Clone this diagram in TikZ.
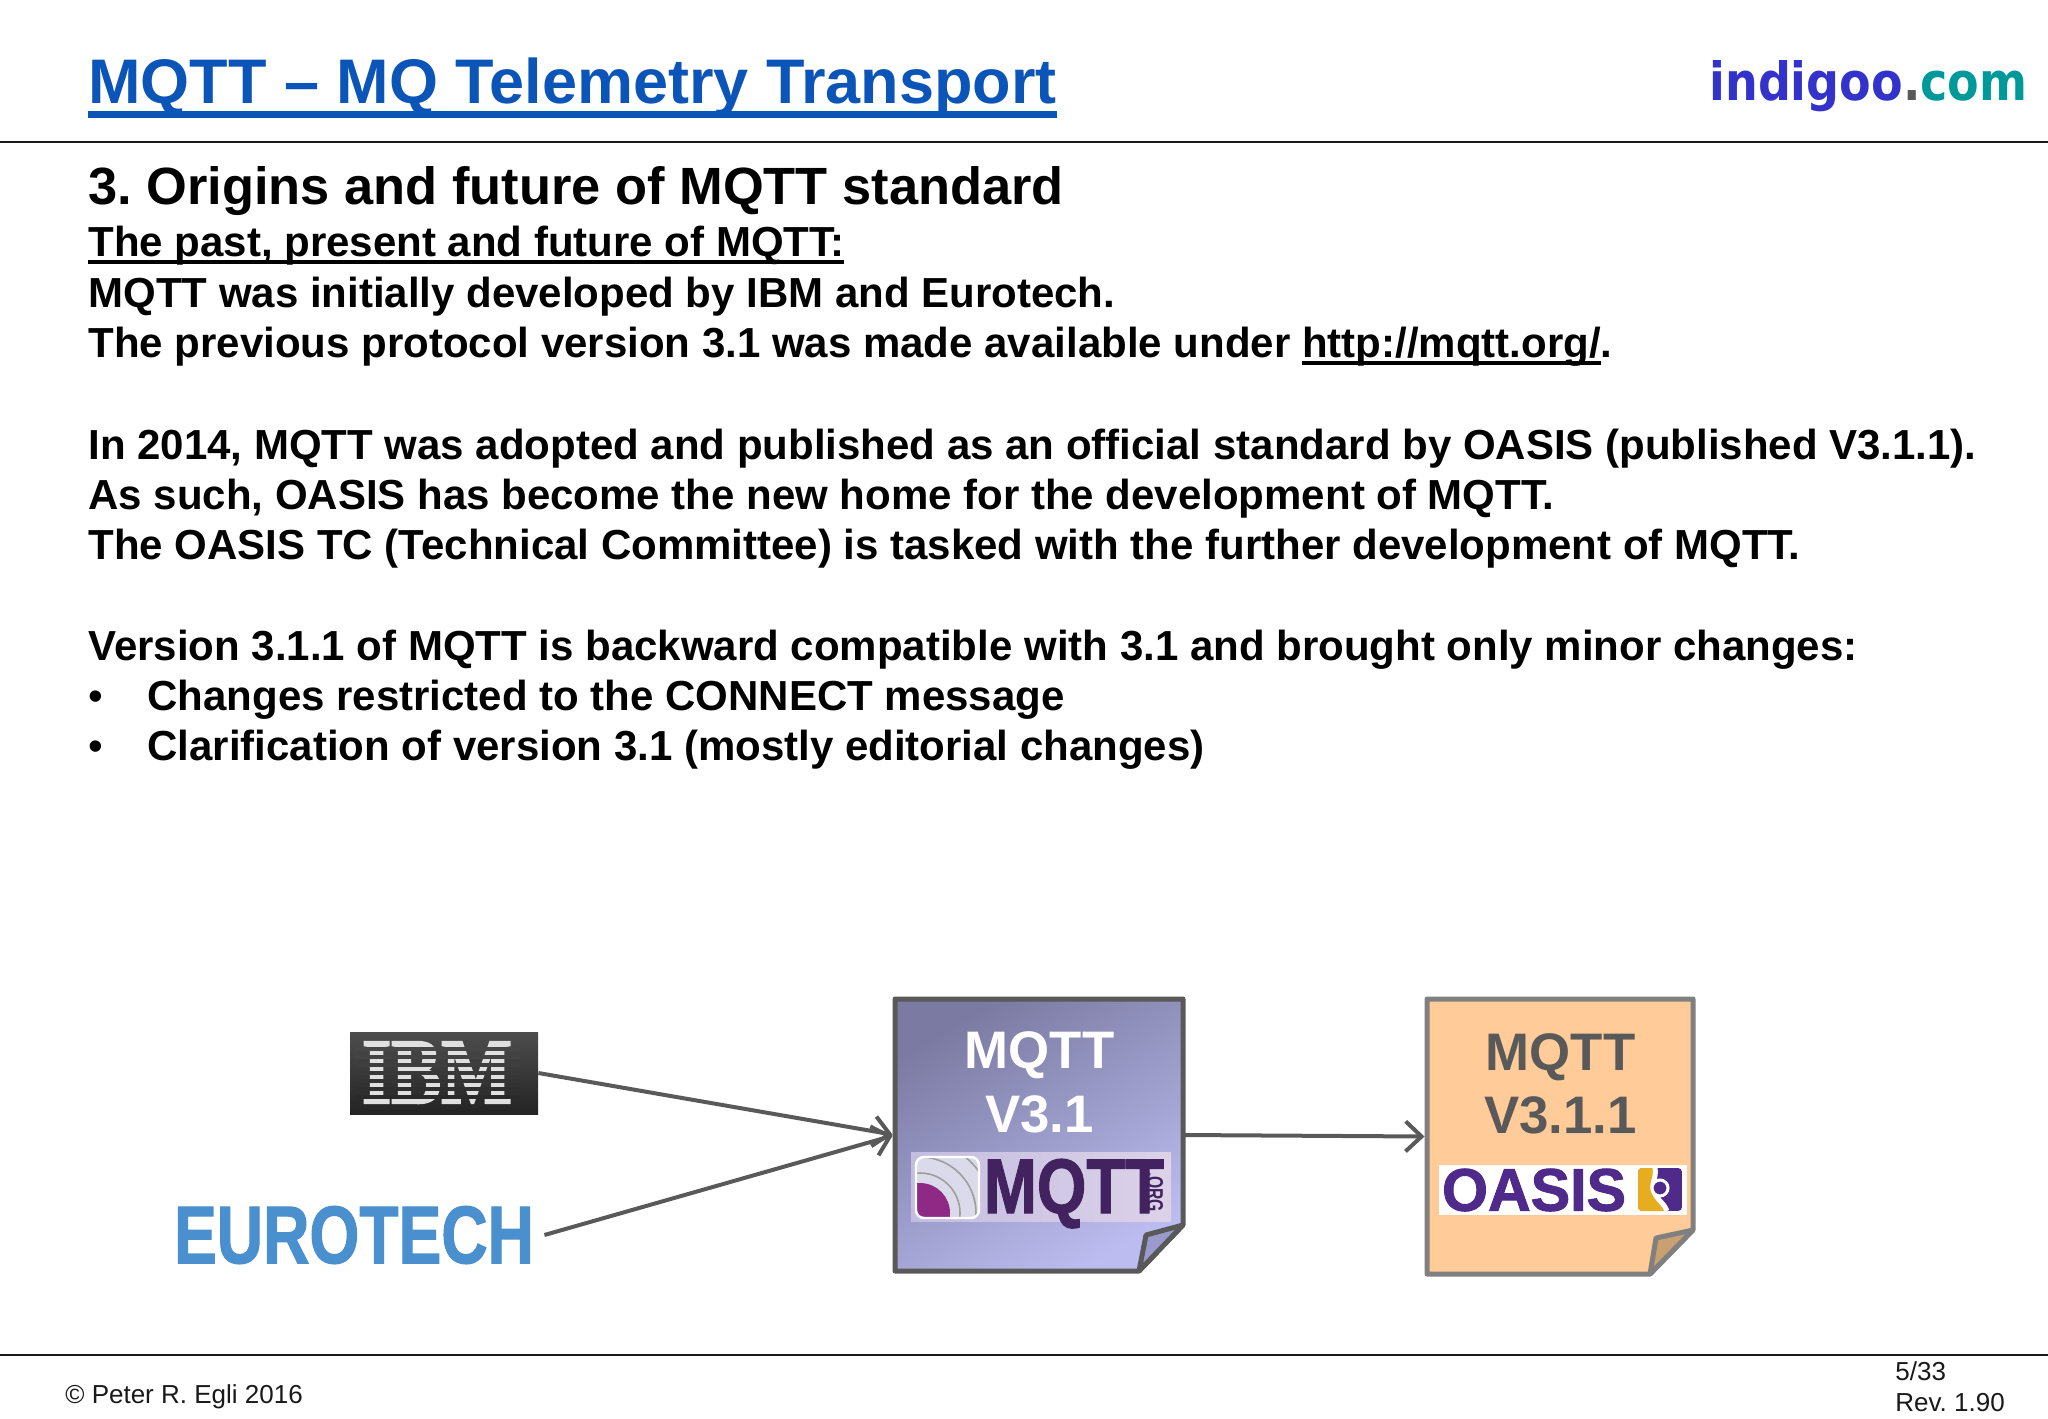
\documentclass[tikz,border=0pt]{standalone}
\usepackage{fontspec}
\usepackage{graphicx}
\setmainfont{Liberation Sans}
\newfontfamily\brandfont{DejaVu Sans}
\newfontfamily\logofont[FakeBold=1.6]{Liberation Sans Bold}
\newfontfamily\logoserif[FakeBold=2.4]{Liberation Serif Bold}
\usetikzlibrary{calc,positioning,arrows.meta}
\definecolor{titleblue}{HTML}{0B55B8}
\definecolor{arrowgrey}{HTML}{595959}
\definecolor{docgrey}{HTML}{808080}
\definecolor{mqttdark}{HTML}{7A7AA2}
\definecolor{mqttlight}{HTML}{BCBCF0}
\definecolor{mqttflap}{HTML}{9A9ACC}
\definecolor{oasisfill}{HTML}{FFCC99}
\definecolor{oasisflap}{HTML}{C9A070}
\definecolor{oasispurple}{HTML}{4F2A8A}
\definecolor{oasisgold}{HTML}{E6AE1E}
\definecolor{logopurple}{HTML}{42235F}
\definecolor{logomagenta}{HTML}{8E2A86}
\definecolor{logoleft}{HTML}{C3BDE0}
\definecolor{logoright}{HTML}{DCD2E8}
\definecolor{logoicon}{HTML}{DADAEA}
\definecolor{eurotechblue}{HTML}{4A90CE}
\definecolor{brandblue}{HTML}{3333CC}
\definecolor{brandteal}{HTML}{009999}
\frenchspacing
\newcommand{\ulword}[3]{\setbox0\hbox{#3}\rlap{\rule[-#1]{\wd0}{#2}}\box0}
\tikzstyle{line}      = [anchor=base west, inner sep=0pt, font=\bfseries\fontsize{21}{25}\selectfont, text=black]
\tikzstyle{bulletdot} = [anchor=base west, inner sep=0pt, font=\fontsize{21}{25}\selectfont, text=black]
\tikzstyle{small}     = [anchor=base west, inner sep=0pt, font=\fontsize{13}{15}\selectfont, text=black!90]
\tikzstyle{doclabel}  = [anchor=base, inner sep=0pt, font=\bfseries\fontsize{26.4}{30}\selectfont]
\tikzstyle{docbox}    = [rectangle, draw=none, inner sep=0pt, outer sep=0pt]
\tikzstyle{docline}   = [line width=2.5pt, line join=round]
\tikzstyle{arrow}     = [arrowgrey, line width=2pt, -{Straight Barb[length=8pt,width=15pt,line width=2pt]}]
\begin{document}
\begin{tikzpicture}[x=0.5pt,y=-0.5pt]
		\useasboundingbox (0,0) rectangle (2048,1418);

		\node[line, font=\bfseries\fontsize{31.5}{38}\selectfont, text=titleblue] (title) at (88,104) {\ulword{7pt}{3.5pt}{MQTT -- MQ Telemetry Transport}};
		\node[anchor=base west, inner sep=0pt, font=\brandfont\bfseries] (brand) at (1709,101) {\resizebox{159pt}{20pt}{\textcolor{brandblue}{indigoo}\textcolor{arrowgrey}{.}\textcolor{brandteal}{com}}};
		\coordinate (topleft) at (0,142);
		\coordinate (topright) at (2048,142);
		\draw[line width=1pt, black!90] (topleft) -- (topright);

		\node[line, font=\bfseries\fontsize{26.2}{31}\selectfont] (heading) at (88,204) {3. Origins and future of MQTT standard};
		\node[line] (past) at (88,256) {\ulword{4pt}{2pt}{The past, present and future of MQTT:}};
		\node[line] (origin) at (88,307) {MQTT was initially developed by IBM and Eurotech.};
		\node[line] (previous) at (88,357) {The previous protocol version 3.1 was made available under \ulword{4pt}{2pt}{http://mqtt.org/}.};
		\node[line] (adopted) at (88,459) {In 2014, MQTT was adopted and published as an official standard by OASIS (published V3.1.1).};
		\node[line] (home) at (88,509) {As such, OASIS has become the new home for the development of MQTT.};
		\node[line] (committee) at (88,559) {The OASIS TC (Technical Committee) is tasked with the further development of MQTT.};
		\node[line] (compatible) at (88,660) {Version 3.1.1 of MQTT is backward compatible with 3.1 and brought only minor changes:};
		\node[bulletdot] (bulleta) at (88,710) {•};
		\node[line] (itema) at (147,710) {Changes restricted to the CONNECT message};
		\node[bulletdot] (bulletb) at (88,760) {•};
		\node[line] (itemb) at (147,760) {Clarification of version 3.1 (mostly editorial changes)};

		\node[rectangle, inner sep=0pt, minimum width=94pt, minimum height=41pt, top color=black!70, bottom color=black!86] (ibm) at (444,1073) {};
		\node[inner sep=0pt, text=white!88!black] (ibmtext) at (437,1072.5) {\resizebox{75pt}{30.5pt}{\logoserif IBM}};
		\foreach \k in {0,...,6}{
			\pgfmathsetmacro{\shadeval}{72+\k*1.9}
			\fill[black!\shadeval] (355,{1047.2+8*\k}) rectangle (520,{1050.8+8*\k});
		}

		\node[inner xsep=5pt, inner ysep=0pt, text=eurotechblue] (eurotech) at (354,1235) {\resizebox{180pt}{28.5pt}{\logofont EUROTECH}};

		\node[docbox, minimum width=144pt, minimum height=136pt] (mqttdoc) at (1039,1135) {};
		\node[docbox, minimum width=133pt, minimum height=137.5pt] (oasisdoc) at (1560,1136.5) {};

		\draw[arrow, shorten >=1.25pt] (ibm.east) -- (mqttdoc.west);
		\draw[arrow, shorten >=1.25pt] (eurotech.east) -- (mqttdoc.west);
		\draw[arrow, shorten >=1.25pt] (mqttdoc.east) -- (oasisdoc.west);

		\draw[docline, draw=arrowgrey, left color=mqttdark, right color=mqttlight, shading angle=30] (mqttdoc.north west) -- (mqttdoc.north east) -- ($(mqttdoc.south east)+(0,-46)$) -- ($(mqttdoc.south west)+(244,0)$) -- (mqttdoc.south west) -- cycle;
		\draw[docline, draw=arrowgrey, fill=mqttflap] ($(mqttdoc.south east)+(0,-46)$) -- (1146,1235) -- ($(mqttdoc.south west)+(244,0)$) -- cycle;
		\node[doclabel, text=white] (mqtta) at (1039.5,1068) {MQTT};
		\node[doclabel, text=white] (mqttb) at (1039.5,1132) {V3.1};

		\draw[docline, draw=docgrey, fill=oasisfill] (oasisdoc.north west) -- (oasisdoc.north east) -- ($(oasisdoc.south east)+(0,-44)$) -- ($(oasisdoc.south west)+(223,0)$) -- (oasisdoc.south west) -- cycle;
		\draw[docline, draw=docgrey, fill=oasisflap] ($(oasisdoc.south east)+(0,-44)$) -- (1656,1238) -- ($(oasisdoc.south west)+(223,0)$) -- cycle;
		\node[doclabel, text=arrowgrey] (oasisa) at (1560.5,1070) {MQTT};
		\node[doclabel, text=arrowgrey] (oasisb) at (1560.5,1133) {V3.1.1};

		\node[rectangle, inner sep=0pt, minimum width=130pt, minimum height=34.5pt, left color=logoleft, right color=logoright] (mqttlogo) at (1041,1186.5) {};
		\begin{scope}
			\clip[rounded corners=4pt] (916,1157) rectangle (979,1218);
			\fill[logoicon] (916,1157) rectangle (979,1218);
			\draw[black!38, line width=0.8pt] (920,1213) circle[radius=20pt];
			\draw[black!38, line width=0.8pt] (920,1213) circle[radius=28pt];
			\draw[black!38, line width=0.8pt] (920,1213) circle[radius=36pt];
			\fill[logomagenta] (920,1213) circle[radius=15pt];
		\end{scope}
		\draw[white, line width=1.2pt, rounded corners=4pt] (916,1157) rectangle (979,1218);
		\node[anchor=base, inner sep=0pt, text=logopurple] (mqttword) at (1074,1213) {\resizebox{90pt}{27pt}{\logofont MQTT}};
		\node[inner sep=0pt, rotate=-90, text=logopurple] (mqttorg) at (1155,1192) {\resizebox{20pt}{8pt}{\bfseries .ORG}};

		\node[rectangle, inner sep=0pt, minimum width=124pt, minimum height=25pt, fill=white] (oasislogo) at (1563,1190) {};
		\node[inner sep=0pt, text=oasispurple] (oasisword) at (1534,1190) {\resizebox{92pt}{21pt}{\logofont OASIS}};
		\begin{scope}
			\clip[rounded corners=2pt] (1638,1168) rectangle (1682,1211);
			\fill[oasispurple] (1638,1168) rectangle (1682,1211);
			\fill[oasisgold] (1638,1168) -- (1655,1168) .. controls (1657,1178) and (1650,1185) .. (1654,1192) .. controls (1657,1200) and (1665,1204) .. (1667,1211) -- (1638,1211) -- cycle;
			\draw[white, line width=2.5pt] (1655,1168) .. controls (1657,1178) and (1650,1185) .. (1654,1192) .. controls (1657,1200) and (1665,1204) .. (1667,1211);
			\fill[oasispurple, draw=white, line width=1.5pt] (1660,1188) circle[radius=4pt];
		\end{scope}

		\coordinate (bottomleft) at (0,1355);
		\coordinate (bottomright) at (2048,1355);
		\draw[line width=1pt, black!90] (bottomleft) -- (bottomright);
		\node[small] (copyright) at (65,1403) {© Peter R. Egli 2016};
		\node[small] (page) at (1895,1380) {5/33};
		\node[small] (revision) at (1895,1411) {Rev. 1.90};
	\end{tikzpicture}
\end{document}
